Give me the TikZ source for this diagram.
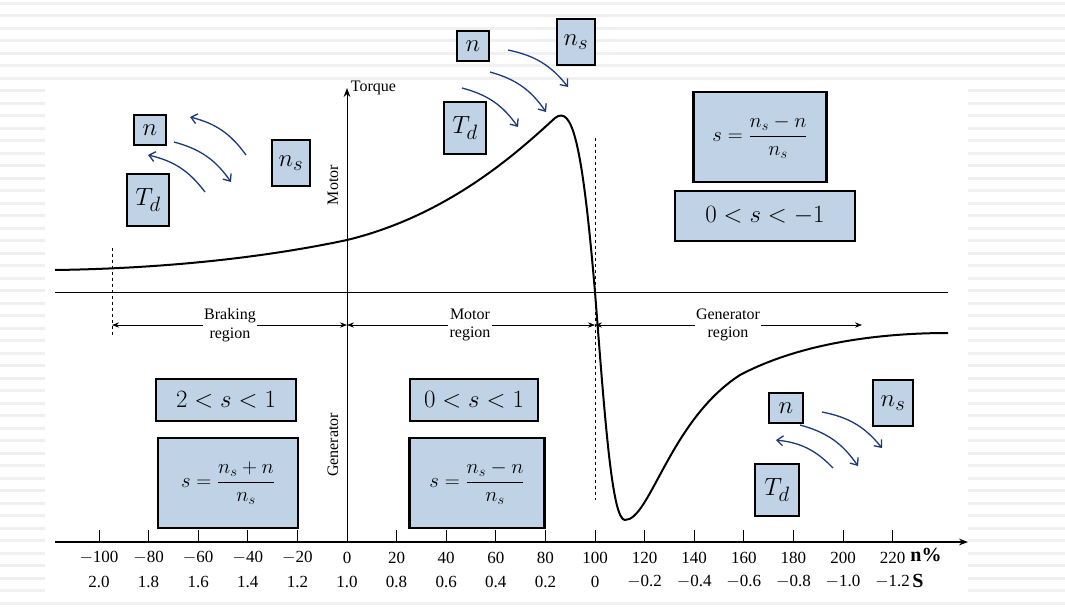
\documentclass[tikz,border=0pt]{standalone}
\usepackage{amsmath}
\usepackage{fontspec}
\setmainfont{Liberation Serif}
\usetikzlibrary{arrows.meta}
\newcommand{\fs}[1]{\fontsize{#1}{1.15\dimexpr#1pt\relax}\selectfont}
\begin{document}
\begin{tikzpicture}[x=1pt,y=-1pt,
  bx/.style={draw=black,line width=2.6pt,fill=boxblue,inner sep=3pt,font=\fs{30}},
  fx/.style={bx,font=\fs{22}},
  cx/.style={bx,font=\fs{38}},
  rot/.style={draw=navy,line width=1.3pt,-{Straight Barb[length=6pt,width=10pt]}},
  reg/.style={-{Stealth[length=7pt]},line width=0.7pt},
  lbl/.style={font=\fs{16},align=center,fill=white,inner sep=1pt},
  tk/.style={font=\fs{17}}]
\definecolor{boxblue}{HTML}{C0D3E6}
\definecolor{navy}{HTML}{1B3A78}
\useasboundingbox (0,0) rectangle (1065,611);
\foreach \yy in {3,15.5,...,611} \draw[gray!12,line width=3pt] (0,\yy) -- (1065,\yy);
\fill[white] (45,85) rectangle (968,600);
% axes
\draw[line width=1pt] (55,292) coordinate(z0) -- (948,292);
\draw[line width=1.2pt,-{Stealth[length=9pt]}] (55,542) -- (968,542);
\draw[line width=1pt,-{Stealth[length=9pt]}] (347,542) -- (347,88) node[right,font=\fs{16}] (tq) {Torque};
\foreach \v in {-100,-80,...,220} \draw[line width=0.8pt] (347+2.48*\v,542) -- (347+2.48*\v,530);
\foreach \v/\s in {-100/2.0,-80/1.8,-60/1.6,-40/1.4,-20/1.2,0/1.0,20/0.8,40/0.6,60/0.4,80/0.2,100/0,120/$-$0.2,140/$-$0.4,160/$-$0.6,180/$-$0.8,200/$-$1.0,220/$-$1.2}{
  \node[tk] at (347+2.48*\v,558) {\ifnum\v<0 $-$\the\numexpr-\v\relax\else\v\fi};
  \node[tk] at (347+2.48*\v,582) {\s};}
\node[font=\fs{20}\bfseries] at (926,555) {n\%};
\node[font=\fs{20}\bfseries] at (918,581) {S};
\node[rotate=90,font=\fs{16}] at (333,185) {Motor};
\node[rotate=90,font=\fs{16}] at (333,445) {Generator};
% dashed
\draw[dashed,line width=0.9pt] (112,248) -- (112,335);
\draw[dashed,line width=0.9pt] (595,138) -- (595,500);
% curve
\draw[line width=2pt] (55,270) .. controls (200,268) and (300,250) .. (347,240)
  .. controls (450,215) and (520,150) .. (555,118) .. controls (572,105) and (582,140) .. (595,292)
  .. controls (605,420) and (612,520) .. (625,520) .. controls (650,520) and (670,420) .. (740,375)
  .. controls (810,338) and (900,333) .. (948,333);
% regions
\node[lbl] (br) at (230,325) {Braking\\region};
\node[lbl] (mr) at (470,325) {Motor\\region};
\node[lbl] (gr) at (728,325) {Generator\\region};
\draw[reg] (br.west) -- (112,325); \draw[reg] (br.east) -- (347,325);
\draw[reg] (mr.west) -- (347,325); \draw[reg] (mr.east) -- (595,325);
\draw[reg] (gr.west) -- (595,325); \draw[reg] (gr.east) -- (862,325);
% boxes
\node[bx,minimum width=32pt,minimum height=30pt] (n1) at (150,130) {$n$};
\node[bx,minimum width=42pt,minimum height=52pt] (t1) at (148,200) {$T_d$};
\node[bx,minimum width=38pt,minimum height=46pt] (s1) at (291,163) {$n_s$};
\node[bx,minimum width=32pt,minimum height=30pt] (n2) at (473,46) {$n$};
\node[bx,minimum width=38pt,minimum height=46pt] (s2) at (576,42) {$n_s$};
\node[bx,minimum width=42pt,minimum height=52pt] (t2) at (465,128) {$T_d$};
\node[fx,minimum width=133pt,minimum height=90pt] (f1) at (760,137) {$s=\dfrac{n_s-n}{n_s}$};
\node[cx,minimum width=180pt,minimum height=50pt] (c1) at (765,216) {$0<s<-1$};
\node[cx,minimum width=140pt,minimum height=42pt] (c2) at (226,400) {$2<s<1$};
\node[fx,minimum width=140pt,minimum height=90pt] (f2) at (228,483) {$s=\dfrac{n_s+n}{n_s}$};
\node[cx,minimum width=128pt,minimum height=42pt] (c3) at (474,400) {$0<s<1$};
\node[fx,minimum width=135pt,minimum height=90pt] (f3) at (477,483) {$s=\dfrac{n_s-n}{n_s}$};
\node[bx,minimum width=34pt,minimum height=30pt] (n3) at (786,408) {$n$};
\node[bx,minimum width=40pt,minimum height=46pt] (s3) at (893,403) {$n_s$};
\node[bx,minimum width=44pt,minimum height=52pt] (t3) at (777,490) {$T_d$};
% rotation arrows
\coordinate (a1) at (246,155); \coordinate (a2) at (190,117);
\draw[rot] (a1) to[bend right=20] (a2);
\coordinate (a3) at (174,142); \coordinate (a4) at (231,182);
\draw[rot] (a3) to[bend left=20] (a4);
\coordinate (a5) at (205,192); \coordinate (a6) at (148,155);
\draw[rot] (a5) to[bend right=20] (a6);
\coordinate (b1) at (508,50); \coordinate (b2) at (568,87);
\draw[rot] (b1) to[bend left=20] (b2);
\coordinate (b3) at (490,72); \coordinate (b4) at (546,112);
\draw[rot] (b3) to[bend left=20] (b4);
\coordinate (b5) at (462,88); \coordinate (b6) at (518,127);
\draw[rot] (b5) to[bend left=20] (b6);
\coordinate (c5) at (822,412); \coordinate (c6) at (882,448);
\draw[rot] (c5) to[bend left=20] (c6);
\coordinate (c7) at (800,425); \coordinate (c8) at (858,466);
\draw[rot] (c7) to[bend left=20] (c8);
\coordinate (c9) at (833,468); \coordinate (c10) at (776,440);
\draw[rot] (c9) to[bend right=20] (c10);
\end{tikzpicture}
\end{document}
